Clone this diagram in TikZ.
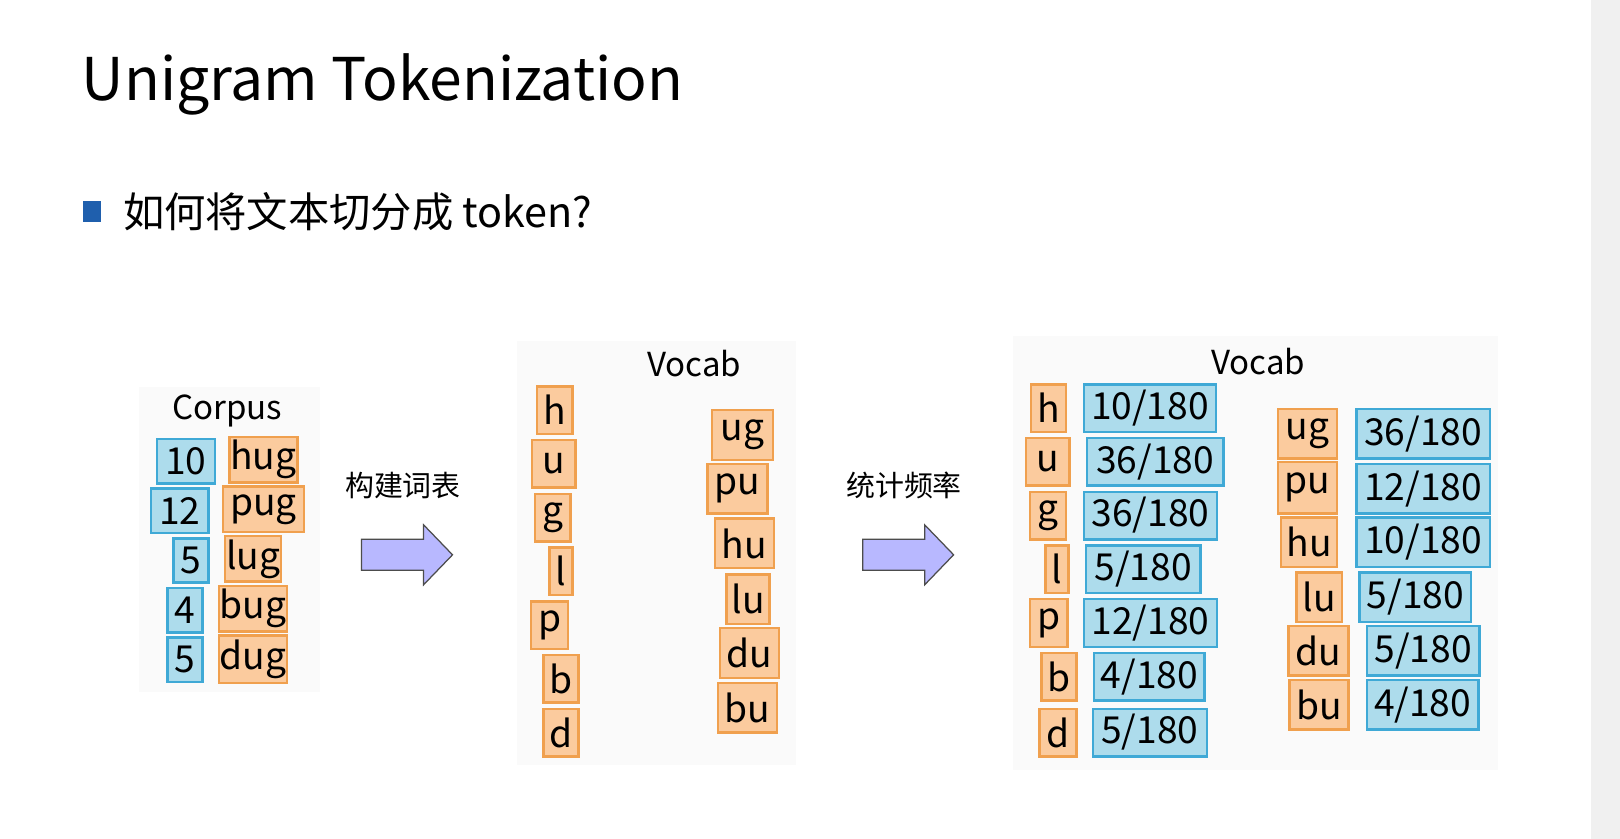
\documentclass[tikz,border=0pt]{standalone}
\usepackage{fontspec}
\setmainfont{Noto Sans CJK SC}
\definecolor{bfill}{HTML}{ADDCEC}
\definecolor{bdraw}{HTML}{3FA9D6}
\definecolor{ofill}{HTML}{FBCB9E}
\definecolor{odraw}{HTML}{F0A04E}
\definecolor{afill}{HTML}{B8B8FF}
\definecolor{bul}{HTML}{1F5FAD}
\tikzset{
 bbox/.style={draw=bdraw,fill=bfill,line width=1.2pt,inner sep=0pt},
 obox/.style={draw=odraw,fill=ofill,line width=1.2pt,inner sep=0pt},
 panel/.style={fill=gray!4,draw=none},
 lbl/.style={font=\fontsize{16}{18}\selectfont},
 blockarrow/.style={fill=afill,draw=black!70,line width=0.6pt}
}
\newcommand{\bx}[7]{\node[#6,font=\fontsize{18}{20}\selectfont,minimum width={(#4-#2)*0.5pt},minimum height={(#5-#3)*0.5pt}] (#1) at ({(#2+#4)/2},{(#3+#5)/2}) {#7};}
\begin{document}
\begin{tikzpicture}[x=0.5pt,y=-0.5pt]
\useasboundingbox (0,0) rectangle (1568,812);
\fill[white] (0,0) rectangle (1568,812);
\fill[gray!12] (1540,0) rectangle (1568,812);
\node[anchor=west,font=\fontsize{28.5}{34}\selectfont] (title) at (72,82) {Unigram Tokenization};
\fill[bul] (80,195) rectangle (98,215);
\node[anchor=west,font=\fontsize{20}{24}\selectfont] (bullet) at (112,205) {如何将文本切分成 token?};
% panels
\fill[panel] (135,375) rectangle (310,670);
\fill[panel] (500,330) rectangle (770,740);
\fill[panel] (980,325) rectangle (1450,745);
% corpus
\node[lbl] (corpus) at (220,398) {Corpus};
\bx{c1}{152}{425}{208}{468}{bbox}{10}
\bx{c2}{146}{473}{202}{516}{bbox}{12}
\bx{c3}{168}{521}{202}{564}{bbox}{5}
\bx{c4}{162}{569}{196}{612}{bbox}{4}
\bx{c5}{162}{617}{196}{660}{bbox}{5}
\bx{w1}{222}{423}{288}{467}{obox}{hug}
\bx{w2}{216}{471}{294}{515}{obox}{pug}
\bx{w3}{218}{519}{272}{563}{obox}{lug}
\bx{w4}{212}{567}{278}{611}{obox}{bug}
\bx{w5}{212}{615}{278}{661}{obox}{dug}
% arrow 1
\node[lbl,font=\fontsize{14}{16}\selectfont] (a1l) at (390,470) {构建词表};
\draw[blockarrow] (350,522) -- (410,522) -- (410,508) -- (438,537) -- (410,566) -- (410,552) -- (350,552) -- cycle;
% middle vocab
\node[lbl] (v1) at (672,352) {Vocab};
\bx{m1}{520}{374}{554}{420}{obox}{h}
\bx{m2}{515}{426}{557}{472}{obox}{u}
\bx{m3}{518}{478}{552}{524}{obox}{g}
\bx{m4}{532}{530}{554}{576}{obox}{l}
\bx{m5}{514}{582}{550}{628}{obox}{p}
\bx{m6}{526}{634}{560}{680}{obox}{b}
\bx{m7}{526}{686}{560}{732}{obox}{d}
\bx{n1}{689}{397}{748}{445}{obox}{ug}
\bx{n2}{685}{449}{743}{497}{obox}{pu}
\bx{n3}{692}{502}{749}{550}{obox}{hu}
\bx{n4}{703}{556}{745}{604}{obox}{lu}
\bx{n5}{697}{608}{754}{656}{obox}{du}
\bx{n6}{695}{661}{752}{709}{obox}{bu}
% arrow 2
\node[lbl,font=\fontsize{14}{16}\selectfont] (a2l) at (875,470) {统计频率};
\draw[blockarrow] (835,522) -- (895,522) -- (895,508) -- (923,537) -- (895,566) -- (895,552) -- (835,552) -- cycle;
% right vocab
\node[lbl] (v2) at (1218,350) {Vocab};
\bx{r1}{998}{372}{1032}{418}{obox}{h}
\bx{r2}{993}{424}{1035}{470}{obox}{u}
\bx{r3}{997}{476}{1032}{522}{obox}{g}
\bx{r4}{1012}{528}{1034}{574}{obox}{l}
\bx{r5}{997}{580}{1033}{626}{obox}{p}
\bx{r6}{1008}{632}{1042}{678}{obox}{b}
\bx{r7}{1006}{686}{1042}{732}{obox}{d}
\bx{f1}{1049}{372}{1177}{418}{bbox}{10/180}
\bx{f2}{1052}{424}{1184}{470}{bbox}{36/180}
\bx{f3}{1049}{476}{1178}{522}{bbox}{36/180}
\bx{f4}{1051}{528}{1162}{574}{bbox}{5/180}
\bx{f5}{1049}{580}{1178}{626}{bbox}{12/180}
\bx{f6}{1059}{632}{1166}{678}{bbox}{4/180}
\bx{f7}{1058}{686}{1168}{732}{bbox}{5/180}
\bx{s1}{1237}{396}{1294}{444}{obox}{ug}
\bx{s2}{1237}{447}{1294}{497}{obox}{pu}
\bx{s3}{1240}{501}{1294}{549}{obox}{hu}
\bx{s4}{1255}{554}{1299}{602}{obox}{lu}
\bx{s5}{1247}{606}{1305}{654}{obox}{du}
\bx{s6}{1248}{658}{1305}{706}{obox}{bu}
\bx{g1}{1313}{396}{1442}{444}{bbox}{36/180}
\bx{g2}{1313}{449}{1442}{497}{bbox}{12/180}
\bx{g3}{1313}{501}{1442}{549}{bbox}{10/180}
\bx{g4}{1316}{554}{1424}{602}{bbox}{5/180}
\bx{g5}{1323}{606}{1432}{654}{bbox}{5/180}
\bx{g6}{1323}{658}{1431}{706}{bbox}{4/180}
\end{tikzpicture}
\end{document}
